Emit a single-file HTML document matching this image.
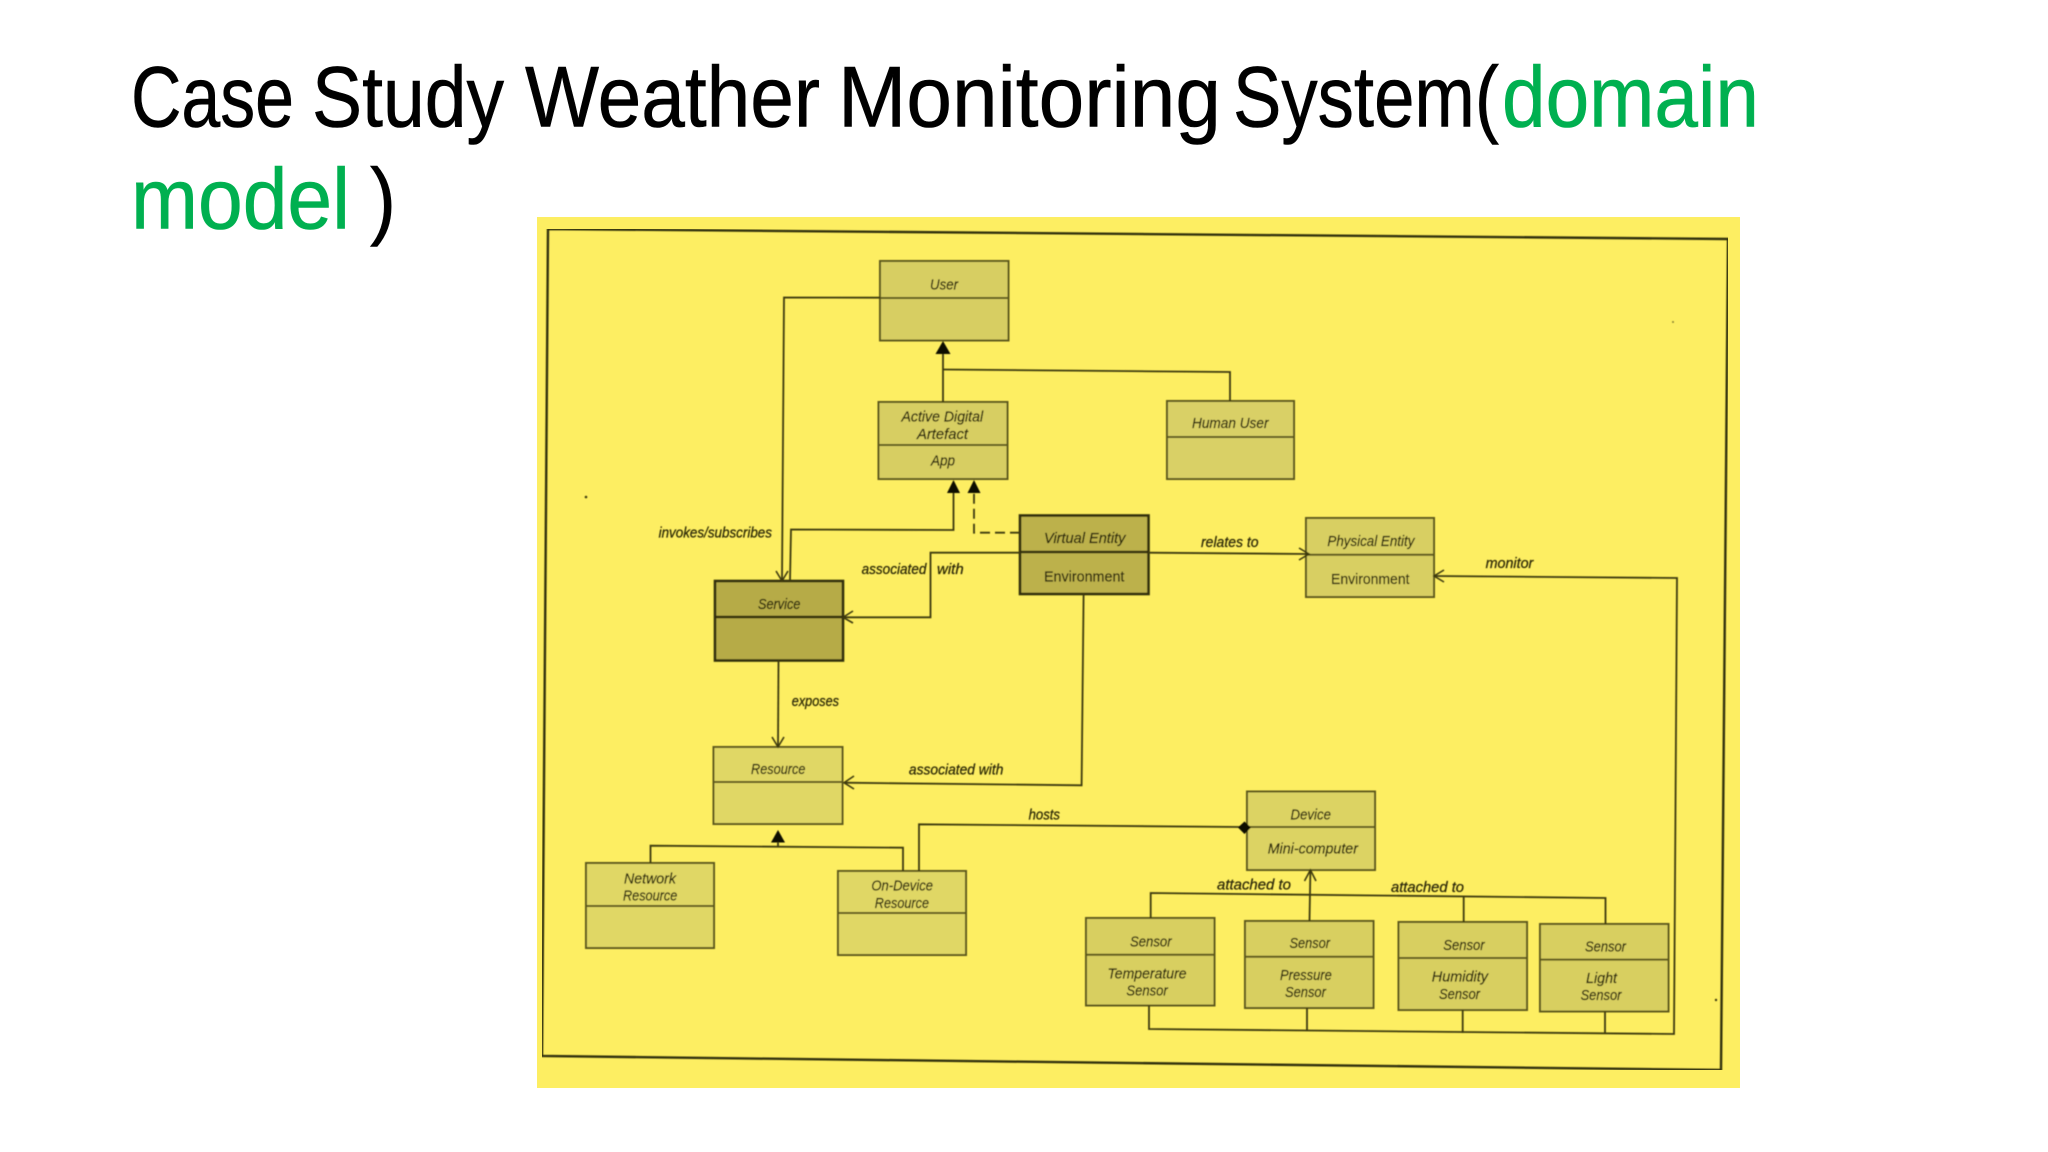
<!DOCTYPE html>
<html lang="en">
<head>
<meta charset="utf-8">
<title>Case Study Weather Monitoring System (domain model)</title>
<style>
html,body{margin:0;padding:0;background:#fff}
svg{display:block}
.t{font-family:"Liberation Sans",sans-serif;font-size:86px;fill:#000;stroke:#000;stroke-width:.6}
.t.g{fill:#00b050;stroke:#00b050}
.l{font-family:"Liberation Sans",sans-serif;font-style:italic;font-size:15px;fill:#2a2708;stroke:#2a2708;stroke-width:.25}
.n{font-family:"Liberation Sans",sans-serif;font-size:15px;fill:#2a2708;stroke:#2a2708;stroke-width:.2}
.c{fill:none;stroke:#3e3a0c;stroke-width:1.8}
.d{fill:none;stroke:#3e3a0c;stroke-width:1.8;stroke-dasharray:10 5}
.a{fill:none;stroke:#3e3a0c;stroke-width:1.6}
.b{stroke:#5d581a;stroke-width:2}
.bd{stroke:#302d0a;stroke-width:2.6}
.s{fill:#0c0b02}
</style>
</head>
<body>
<svg width="2048" height="1152" viewBox="0 0 2048 1152" xmlns="http://www.w3.org/2000/svg">
<defs><filter id="soft" x="0" y="0" width="100%" height="100%"><feGaussianBlur stdDeviation="0.45"/></filter></defs>
<rect width="2048" height="1152" fill="#fff"/>

<!-- Title -->
<text class="t" x="131" y="126.7" textLength="163" lengthAdjust="spacingAndGlyphs">Case</text>
<text class="t" x="312" y="126.7" textLength="192" lengthAdjust="spacingAndGlyphs">Study</text>
<text class="t" x="525" y="126.7" textLength="295" lengthAdjust="spacingAndGlyphs">Weather</text>
<text class="t" x="838" y="126.7" textLength="383" lengthAdjust="spacingAndGlyphs">Monitoring</text>
<text class="t" x="1233" y="126.7" textLength="266" lengthAdjust="spacingAndGlyphs">System(</text>
<text class="t g" x="1502" y="126.7" textLength="257" lengthAdjust="spacingAndGlyphs">domain</text>
<text class="t g" x="131" y="228.7" textLength="219" lengthAdjust="spacingAndGlyphs">model</text>
<text class="t" x="370" y="228.7" textLength="26" lengthAdjust="spacingAndGlyphs">)</text>

<!-- Panel -->
<rect x="537" y="217" width="1203" height="871" fill="#fdee62"/>
<g filter="url(#soft)">
<polygon points="548,229 1728,239 1721,1070 542,1056" fill="none" stroke="#33300a" stroke-width="2.4"/>

<!-- Boxes -->
<rect class="b" x="880" y="261" width="128.5" height="79.5" fill="#d7ce62"/><line class="b" x1="880" y1="298" x2="1008.5" y2="298"/>
<rect class="b" x="878.5" y="402" width="129" height="77" fill="#d7ce62"/><line class="b" x1="878.5" y1="445" x2="1007.5" y2="445"/>
<rect class="b" x="1167" y="401" width="127" height="78" fill="#d9d066"/><line class="b" x1="1167" y1="437" x2="1294" y2="437"/>
<rect class="bd" x="715" y="581" width="128" height="79.5" fill="#b6ab47"/><line class="bd" x1="715" y1="617" x2="843" y2="617"/>
<rect class="bd" x="1020" y="515.5" width="128.5" height="78.5" fill="#bcb14c"/><line class="bd" x1="1020" y1="552" x2="1148.5" y2="552"/>
<rect class="b" x="1306" y="518" width="128" height="79" fill="#d8cf62"/><line class="b" x1="1306" y1="554.7" x2="1434" y2="554.7"/>
<rect class="b" x="713.5" y="747" width="129" height="77" fill="#e0d765"/><line class="b" x1="713.5" y1="782" x2="842.5" y2="782"/>
<rect class="b" x="586" y="863" width="128" height="85" fill="#e0d765"/><line class="b" x1="586" y1="906" x2="714" y2="906"/>
<rect class="b" x="838" y="871" width="128" height="84" fill="#e0d765"/><line class="b" x1="838" y1="913" x2="966" y2="913"/>
<rect class="b" x="1247" y="791.5" width="128" height="78.5" fill="#dcd363"/><line class="b" x1="1247" y1="827" x2="1375" y2="827"/>
<rect class="b" x="1086" y="918" width="128.5" height="87.5" fill="#d8cf60"/><line class="b" x1="1086" y1="954.7" x2="1214.5" y2="954.7"/>
<rect class="b" x="1245" y="921" width="128.5" height="87" fill="#d8cf60"/><line class="b" x1="1245" y1="956.7" x2="1373.5" y2="956.7"/>
<rect class="b" x="1398.5" y="922" width="128.5" height="88" fill="#d8cf60"/><line class="b" x1="1398.5" y1="958" x2="1527" y2="958"/>
<rect class="b" x="1540" y="924" width="128.5" height="87.5" fill="#d8cf60"/><line class="b" x1="1540" y1="959.6" x2="1668.5" y2="959.6"/>

<!-- Connectors -->
<polyline class="c" points="880,297.7 784,297.5 782,581"/>
<polyline class="a" points="776,571 782,581 788,571"/>
<line class="c" x1="943" y1="352" x2="943" y2="402"/>
<polygon class="s" points="943,341 935.5,354 950.5,354"/>
<polyline class="c" points="943,369.5 1230,372 1230,401"/>
<polyline class="c" points="790,581 791,529.5 953.5,530 953.5,490"/>
<polygon class="s" points="953.5,480 947,493 960,493"/>
<polyline class="d" points="1020,532.7 974,532.7 974,491"/>
<polygon class="s" points="974,480 967.5,493 980.5,493"/>
<polyline class="c" points="1020,552.7 930.5,552.7 930.5,617.3 843,617.3"/>
<polyline class="a" points="853,611 843,617.3 853,623"/>
<line class="c" x1="1148" y1="552.7" x2="1308" y2="554"/>
<polyline class="a" points="1299,548 1309,554 1299,560"/>
<polyline class="c" points="1083.6,594 1081.6,785.3 844,782.7"/>
<polyline class="a" points="854,776 844,782.7 854,789"/>
<line class="c" x1="778.5" y1="660" x2="778" y2="747"/>
<polyline class="a" points="772,737 778,747 784,737"/>
<polygon class="s" points="778,830 771,842.5 785,842.5"/>
<line class="c" x1="778" y1="842" x2="778" y2="847"/>
<polyline class="c" points="650.5,863 650.5,845.7 903,847.7 903,871"/>
<polyline class="c" points="919,871 919,824.3 1000,825 1240,827"/>
<polygon class="s" points="1238,827.5 1244.5,821.5 1251,827.5 1244.5,834"/>
<line class="c" x1="1309.5" y1="921" x2="1310.4" y2="870"/>
<polyline class="a" points="1304.5,881 1310.4,870 1316,881"/>
<polyline class="c" points="1150.7,918 1150.7,893 1605.5,898 1605.5,924"/>
<line class="c" x1="1463.7" y1="896.5" x2="1463.7" y2="922"/>
<polyline class="c" points="1149,1005.5 1149,1029 1674,1034 1677,578 1434,576"/>
<polyline class="a" points="1444,570 1434,576 1444,582"/>
<line class="c" x1="1307" y1="1008" x2="1307" y2="1031"/>
<line class="c" x1="1462.7" y1="1010" x2="1462.7" y2="1033"/>
<line class="c" x1="1605" y1="1011.5" x2="1605" y2="1034"/>

<!-- Labels -->
<text class="l" x="930" y="289.3" textLength="28" lengthAdjust="spacingAndGlyphs">User</text>
<text class="l" x="901.5" y="421.7" textLength="81.6" lengthAdjust="spacingAndGlyphs">Active Digital</text>
<text class="l" x="917" y="439" textLength="51" lengthAdjust="spacingAndGlyphs">Artefact</text>
<text class="l" x="931" y="465.7" textLength="24" lengthAdjust="spacingAndGlyphs">App</text>
<text class="l" x="1192" y="428" textLength="76.5" lengthAdjust="spacingAndGlyphs">Human User</text>
<text class="l" x="658.6" y="537.7" textLength="113.4" lengthAdjust="spacingAndGlyphs">invokes/subscribes</text>
<text class="l" x="861.6" y="574" textLength="64.8" lengthAdjust="spacingAndGlyphs">associated</text>
<text class="l" x="937" y="574" textLength="26.7" lengthAdjust="spacingAndGlyphs">with</text>
<text class="l" x="1044" y="543" textLength="81.4" lengthAdjust="spacingAndGlyphs">Virtual Entity</text>
<text class="n" x="1044" y="581.7" textLength="80.4" lengthAdjust="spacingAndGlyphs">Environment</text>
<text class="l" x="1201" y="547" textLength="57.6" lengthAdjust="spacingAndGlyphs">relates to</text>
<text class="l" x="758" y="609" textLength="42.4" lengthAdjust="spacingAndGlyphs">Service</text>
<text class="l" x="1327.4" y="546" textLength="87" lengthAdjust="spacingAndGlyphs">Physical Entity</text>
<text class="n" x="1331" y="584" textLength="78.5" lengthAdjust="spacingAndGlyphs">Environment</text>
<text class="l" x="1485.6" y="568" textLength="47.7" lengthAdjust="spacingAndGlyphs">monitor</text>
<text class="l" x="791.8" y="706" textLength="47.2" lengthAdjust="spacingAndGlyphs">exposes</text>
<text class="l" x="751" y="774" textLength="54.5" lengthAdjust="spacingAndGlyphs">Resource</text>
<text class="l" x="908.9" y="774.7" textLength="94.5" lengthAdjust="spacingAndGlyphs">associated with</text>
<text class="l" x="1028.6" y="819.3" textLength="31.4" lengthAdjust="spacingAndGlyphs">hosts</text>
<text class="l" x="1290.5" y="819.6" textLength="40.5" lengthAdjust="spacingAndGlyphs">Device</text>
<text class="l" x="1267.7" y="853.5" textLength="90.3" lengthAdjust="spacingAndGlyphs">Mini-computer</text>
<text class="l" x="624" y="883.3" textLength="52" lengthAdjust="spacingAndGlyphs">Network</text>
<text class="l" x="623" y="900.7" textLength="54.3" lengthAdjust="spacingAndGlyphs">Resource</text>
<text class="l" x="871.4" y="890.7" textLength="61.6" lengthAdjust="spacingAndGlyphs">On-Device</text>
<text class="l" x="874.8" y="908" textLength="54.2" lengthAdjust="spacingAndGlyphs">Resource</text>
<text class="l" x="1217" y="889.4" textLength="74" lengthAdjust="spacingAndGlyphs">attached to</text>
<text class="l" x="1391" y="892" textLength="73" lengthAdjust="spacingAndGlyphs">attached to</text>
<text class="l" x="1130" y="946.5" textLength="41.6" lengthAdjust="spacingAndGlyphs">Sensor</text>
<text class="l" x="1107.5" y="978.4" textLength="79.1" lengthAdjust="spacingAndGlyphs">Temperature</text>
<text class="l" x="1126.4" y="995.5" textLength="41.3" lengthAdjust="spacingAndGlyphs">Sensor</text>
<text class="l" x="1289.5" y="948" textLength="40.5" lengthAdjust="spacingAndGlyphs">Sensor</text>
<text class="l" x="1280" y="980" textLength="51.8" lengthAdjust="spacingAndGlyphs">Pressure</text>
<text class="l" x="1285" y="997" textLength="40.9" lengthAdjust="spacingAndGlyphs">Sensor</text>
<text class="l" x="1443.3" y="949.8" textLength="41.3" lengthAdjust="spacingAndGlyphs">Sensor</text>
<text class="l" x="1431.8" y="981.6" textLength="56.2" lengthAdjust="spacingAndGlyphs">Humidity</text>
<text class="l" x="1439" y="998.8" textLength="41" lengthAdjust="spacingAndGlyphs">Sensor</text>
<text class="l" x="1585" y="951.4" textLength="41" lengthAdjust="spacingAndGlyphs">Sensor</text>
<text class="l" x="1586" y="983" textLength="31" lengthAdjust="spacingAndGlyphs">Light</text>
<text class="l" x="1580.6" y="1000" textLength="40.8" lengthAdjust="spacingAndGlyphs">Sensor</text>

<!-- Specks -->
<circle cx="586" cy="497" r="1.3" fill="#3e3a0c"/>
<circle cx="1716" cy="1000" r="1.2" fill="#3e3a0c"/>
<circle cx="1673" cy="322" r="1" fill="#8a8230"/>
</g>
</svg>
</body>
</html>
